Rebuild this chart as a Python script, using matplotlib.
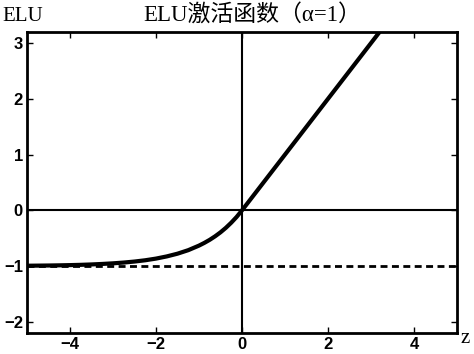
import matplotlib
matplotlib.use("Agg")
import matplotlib.pyplot as plt

# ELU curve samples (alpha = 1)
z_vals = [-5.0, -4.75, -4.5, -4.25, -4.0, -3.75, -3.5, -3.25, -3.0, -2.75, -2.5,
          -2.25, -2.0, -1.75, -1.5, -1.25, -1.0, -0.875, -0.75, -0.625, -0.5,
          -0.375, -0.25, -0.125, 0.0, 3.2]
elu_vals = [-0.993, -0.991, -0.989, -0.986, -0.982, -0.977, -0.970, -0.961, -0.950,
            -0.936, -0.918, -0.895, -0.865, -0.826, -0.777, -0.714, -0.632, -0.583,
            -0.528, -0.465, -0.394, -0.313, -0.221, -0.118, 0.0, 3.2]
asymptote = -1.0
x_ticks = [-4, -2, 0, 2, 4]
y_ticks = [-2, -1, 0, 1, 2, 3]
title = "ELU激活函数（α=1）"

fig = plt.figure(figsize=(4.74, 3.54), dpi=100)
ax = fig.add_axes([0.057, 0.0593, 0.907, 0.8503])

ax.axhline(0, color="black", lw=1.5, zorder=1)
ax.axvline(0, color="black", lw=1.5, zorder=1)
ax.axhline(asymptote, color="black", lw=2, ls=(0, (2.5, 1.6)), zorder=1)
ax.plot(z_vals, elu_vals, color="black", lw=3, zorder=2, solid_capstyle="butt")

ax.set_xlim(-5, 5)
ax.set_ylim(-2.2, 3.2)
ax.set_xticks(x_ticks)
ax.set_yticks(y_ticks)
ax.set_xticklabels([str(t).replace("-", "\u2212") for t in x_ticks])
ax.set_yticklabels([str(t).replace("-", "\u2212") for t in y_ticks])
ax.tick_params(direction="in", top=True, right=True, length=4, width=1,
               labelsize=12, pad=3)
for lab in ax.get_xticklabels() + ax.get_yticklabels():
    lab.set_fontweight("bold")
    lab.set_family(["Liberation Sans", "DejaVu Sans"])
for s in ax.spines.values():
    s.set_linewidth(2)

fig.text(0.532, 0.955, title, ha="center", va="center", fontsize=16.5,
         family=["Liberation Serif", "Noto Sans CJK SC"])
fig.text(0.006, 0.952, "ELU", ha="left", va="center", fontsize=15,
         family=["Liberation Serif"])
fig.text(0.972, 0.045, "z", ha="left", va="center", fontsize=15,
         family=["Liberation Serif"])

fig.savefig("out.png", dpi=100)
